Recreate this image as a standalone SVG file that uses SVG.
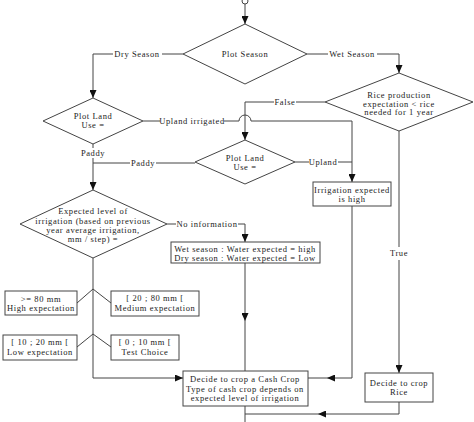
<svg xmlns="http://www.w3.org/2000/svg" width="474" height="422" viewBox="0 0 474 422">
<defs>
<marker id="arr" markerUnits="userSpaceOnUse" markerWidth="8" markerHeight="7" refX="8" refY="3.5" orient="auto">
<path d="M0,0 L8,3.5 L0,7 z" fill="#111"/>
</marker>
<style>
.s{fill:#fff;stroke:#444;stroke-width:1}
.c{fill:none;stroke:#444;stroke-width:1}
.a{fill:none;stroke:#444;stroke-width:1;marker-end:url(#arr)}
text{font-family:"Liberation Serif","Times New Roman",serif;font-size:8.5px;letter-spacing:0.6px;fill:#222;text-anchor:middle}
</style>
</defs>
<rect width="474" height="422" fill="#fff"/>
<g id="connectors">
<circle cx="245" cy="1" r="3" class="c"/>
<path class="a" d="M245,4 V24"/>
<path class="c" d="M183,54 H162 M113,54 H93"/>
<path class="a" d="M93,54 V98"/>
<text x="137" y="57">Dry Season</text>
<path class="c" d="M307,54 H328 M377,54 H399"/>
<path class="a" d="M399,54 V73"/>
<text x="352" y="57">Wet Season</text>
<path class="c" d="M325,102 H296 M274,102 H245"/>
<path class="a" d="M245,102 V140"/>
<text x="285" y="105">False</text>
<path class="c" d="M143,121 H160 M224,121 H239 A6,6 0 0 1 251,121 H352"/>
<path class="a" d="M352,121 V182"/>
<text x="192" y="124">Upland irrigated</text>
<path class="c" d="M93,144 V148"/>
<text x="93" y="156">Paddy</text>
<path class="a" d="M93,158 V190"/>
<path class="c" d="M195,163 H156 M130,163 H93"/>
<text x="143" y="166">Paddy</text>
<path class="c" d="M295,162 H309 M338,162 H352"/>
<text x="323" y="165">Upland</text>
<path class="c" d="M167,224 H176 M238,224 H245"/>
<path class="a" d="M245,224 V242"/>
<text x="207" y="227">No information</text>
<path class="a" d="M245,263 V321"/>
<path class="c" d="M245,321 V371"/>
<path class="a" d="M352,206 V378 H327"/>
<path class="c" d="M327,378 H308"/>
<path class="c" d="M399,131 V247"/>
<text x="399" y="256">True</text>
<path class="a" d="M399,260 V373"/>
<path class="a" d="M399,402 V414 H318"/>
<path class="c" d="M318,414 H245 M245,406 V422"/>
<path class="a" d="M93,258 V378 H183"/>
<path class="c" d="M77,303 L93,289 L111,303 M77,347 L93,334 L111,347"/>
</g>
<g id="plot-season">
<polygon class="s" points="245,24 307,54 245,84 183,54"/>
<text x="245" y="57">Plot Season</text>
</g>
<g id="rice-expectation">
<polygon class="s" points="399,73 473,102 399,131 325,102"/>
<text x="399" y="98">Rice production</text>
<text x="399" y="106.5">expectation &lt; rice</text>
<text x="399" y="115">needed for 1 year</text>
</g>
<g id="plot-land-1">
<polygon class="s" points="93,98 143,121 93,144 43,121"/>
<text x="93" y="119">Plot Land</text>
<text x="93" y="128">Use =</text>
</g>
<g id="plot-land-2">
<polygon class="s" points="245,140 295,162 245,184 195,162"/>
<text x="245" y="161">Plot Land</text>
<text x="245" y="170">Use =</text>
</g>
<g id="irrigation-high">
<rect class="s" x="313" y="182" width="78" height="24"/>
<text x="352" y="193">Irrigation expected</text>
<text x="352" y="202">is high</text>
</g>
<g id="expected-level">
<polygon class="s" points="93,190 167,224 93,258 20,224"/>
<text x="93" y="214">Expected level of</text>
<text x="93" y="224">irrigation (based on previous</text>
<text x="93" y="233">year average irrigation,</text>
<text x="93" y="242">mm / step)  =</text>
</g>
<g id="water-expected">
<rect class="s" x="171" y="242" width="149" height="21"/>
<text x="245" y="252">Wet season : Water expected = high</text>
<text x="245" y="261">Dry season : Water expected = Low</text>
</g>
<g id="high">
<rect class="s" x="5" y="291" width="72" height="24"/>
<text x="41" y="302">&gt;= 80 mm</text>
<text x="41" y="311">High expectation</text>
</g>
<g id="medium">
<rect class="s" x="111" y="291" width="88" height="25"/>
<text x="155" y="301">[ 20 ; 80 mm [</text>
<text x="155" y="311">Medium expectation</text>
</g>
<g id="low">
<rect class="s" x="3" y="335" width="74" height="25"/>
<text x="40" y="345">[ 10 ; 20 mm [</text>
<text x="40" y="355">Low expectation</text>
</g>
<g id="test">
<rect class="s" x="111" y="335" width="68" height="25"/>
<text x="145" y="345">[ 0 ; 10 mm [</text>
<text x="145" y="355">Test Choice</text>
</g>
<g id="cash-crop">
<rect class="s" x="183" y="371" width="125" height="35"/>
<text x="245" y="382">Decide to crop a Cash Crop</text>
<text x="245" y="392">Type of cash crop depends on</text>
<text x="245" y="401">expected level of irrigation</text>
</g>
<g id="rice-crop">
<rect class="s" x="365" y="373" width="68" height="29"/>
<text x="399" y="386">Decide to crop</text>
<text x="399" y="395">Rice</text>
</g>
</svg>
